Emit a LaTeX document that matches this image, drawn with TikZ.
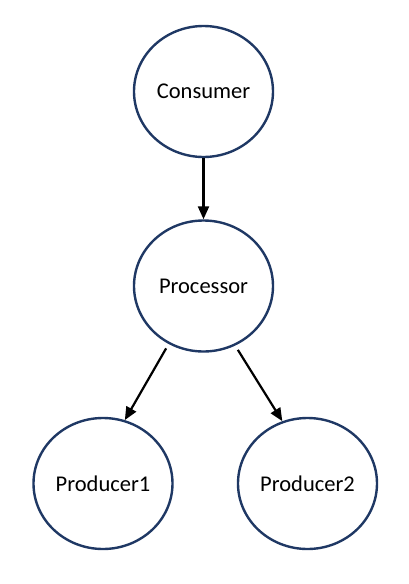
\documentclass[tikz,border=0pt]{standalone}
\usepackage{fontspec}
\setmainfont{Carlito}
\usetikzlibrary{shapes.geometric,arrows.meta}
\definecolor{navy}{HTML}{1F3864}
\begin{document}
\begin{tikzpicture}[x=1pt,y=-1pt,
    role/.style={ellipse,draw=navy,line width=2.4pt,inner sep=0pt,
                 minimum width=139pt,minimum height=131pt,
                 font=\fontsize{22.5}{27}\selectfont},
    call/.style={line width=2.2pt,-{Triangle[length=13pt,width=11pt]}}]
    \useasboundingbox (0,0) rectangle (409,584);
    \node[role] (consumer)  at (203.5,91.5) {Consumer};
    \node[role] (processor) at (203.5,286)  {Processor};
    \node[role] (producerA) at (103,483.5)  {Producer1};
    \node[role] (producerB) at (307.5,483.5) {Producer2};
    \draw[call] (consumer) -- (processor);
    \draw[call,shorten <=5pt] (processor.239) -- (producerA.71);
    \draw[call,shorten <=5pt] (processor.298) -- (producerB.112);
\end{tikzpicture}
\end{document}
